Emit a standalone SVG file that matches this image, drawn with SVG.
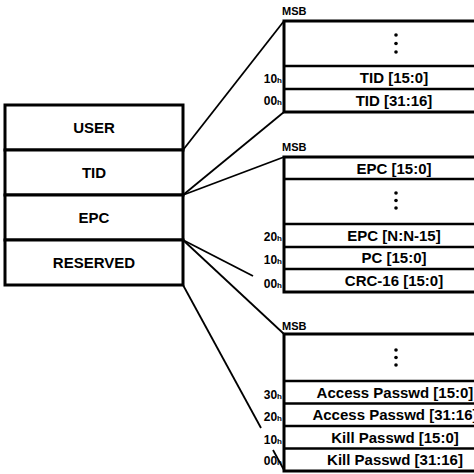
<svg xmlns="http://www.w3.org/2000/svg" width="474" height="474" viewBox="0 0 474 474">
<style>
.box{fill:#fff;stroke:#000;stroke-width:3}
.div{stroke:#000;stroke-width:2.5}
.t{font-family:"Liberation Sans",Arial,sans-serif;font-weight:bold;font-size:15px;text-anchor:middle;fill:#000}
.a{font-family:"Liberation Sans",Arial,sans-serif;font-weight:bold;font-size:12px;text-anchor:end;fill:#000}
.s{font-size:8px}
.m{font-family:"Liberation Sans",Arial,sans-serif;font-weight:bold;font-size:11px;fill:#000}
.c{stroke:#000;stroke-width:1.8;fill:none}
</style>
<rect width="474" height="474" fill="#fff"/>
<g id="memory-banks">
<g id="bank-user"><rect class="box" x="5" y="105" width="178" height="45"/><text class="t" x="94" y="133">USER</text></g>
<g id="bank-tid"><rect class="box" x="5" y="150" width="178" height="45"/><text class="t" x="94" y="178">TID</text></g>
<g id="bank-epc"><rect class="box" x="5" y="195" width="178" height="45"/><text class="t" x="94" y="223">EPC</text></g>
<g id="bank-reserved"><rect class="box" x="5" y="240" width="178" height="45"/><text class="t" x="94" y="268">RESERVED</text></g>
</g>
<g id="connectors">
<line class="c" x1="183" y1="150" x2="284" y2="21"/>
<line class="c" x1="183" y1="195" x2="284" y2="112"/>
<line class="c" x1="183" y1="195" x2="284" y2="157"/>
<line class="c" x1="183" y1="240" x2="253" y2="276"/>
<line class="c" x1="183" y1="240" x2="284" y2="334"/>
<line class="c" x1="183" y1="285" x2="261" y2="428"/>
<line class="c" x1="273" y1="450" x2="284" y2="470"/>
</g>
<g id="tid-block">
<text class="m" x="282" y="15">MSB</text>
<rect class="box" x="284" y="21" width="220" height="91"/>
<line class="div" x1="284" y1="66" x2="480" y2="66"/>
<line class="div" x1="284" y1="89" x2="480" y2="89"/>
<circle cx="396" cy="35" r="1.8"/><circle cx="396" cy="43.5" r="1.8"/><circle cx="396" cy="52" r="1.8"/>
<text class="t" x="394" y="83">TID [15:0]</text>
<text class="t" x="394" y="106">TID [31:16]</text>
<text class="a" x="282" y="83">10<tspan class="s">h</tspan></text>
<text class="a" x="282" y="105">00<tspan class="s">h</tspan></text>
</g>
<g id="epc-block">
<text class="m" x="282" y="151">MSB</text>
<rect class="box" x="284" y="157" width="220" height="135"/>
<line class="div" x1="284" y1="179" x2="480" y2="179"/>
<line class="div" x1="284" y1="224" x2="480" y2="224"/>
<line class="div" x1="284" y1="247" x2="480" y2="247"/>
<line class="div" x1="284" y1="269" x2="480" y2="269"/>
<circle cx="396" cy="193" r="1.8"/><circle cx="396" cy="200.5" r="1.8"/><circle cx="396" cy="208" r="1.8"/>
<text class="t" x="394" y="173.5">EPC [15:0]</text>
<text class="t" x="394" y="241">EPC [N:N-15]</text>
<text class="t" x="394" y="263">PC [15:0]</text>
<text class="t" x="394" y="286">CRC-16 [15:0]</text>
<text class="a" x="282" y="241">20<tspan class="s">h</tspan></text>
<text class="a" x="282" y="264">10<tspan class="s">h</tspan></text>
<text class="a" x="282" y="288">00<tspan class="s">h</tspan></text>
</g>
<g id="reserved-block">
<text class="m" x="282" y="330">MSB</text>
<rect class="box" x="284" y="334" width="220" height="137"/>
<line class="div" x1="284" y1="381" x2="480" y2="381"/>
<line class="div" x1="284" y1="403.5" x2="480" y2="403.5"/>
<line class="div" x1="284" y1="426" x2="480" y2="426"/>
<line class="div" x1="284" y1="448.5" x2="480" y2="448.5"/>
<circle cx="396" cy="350" r="1.8"/><circle cx="396" cy="357.5" r="1.8"/><circle cx="396" cy="365" r="1.8"/>
<text class="t" x="395" y="397.5">Access Passwd [15:0]</text>
<text class="t" x="395" y="420">Access Passwd [31:16]</text>
<text class="t" x="395" y="442.5">Kill Passwd [15:0]</text>
<text class="t" x="395" y="465">Kill Passwd [31:16]</text>
<text class="a" x="282" y="399">30<tspan class="s">h</tspan></text>
<text class="a" x="282" y="421">20<tspan class="s">h</tspan></text>
<text class="a" x="282" y="444">10<tspan class="s">h</tspan></text>
<text class="a" x="282" y="465">00<tspan class="s">h</tspan></text>
</g>
</svg>
